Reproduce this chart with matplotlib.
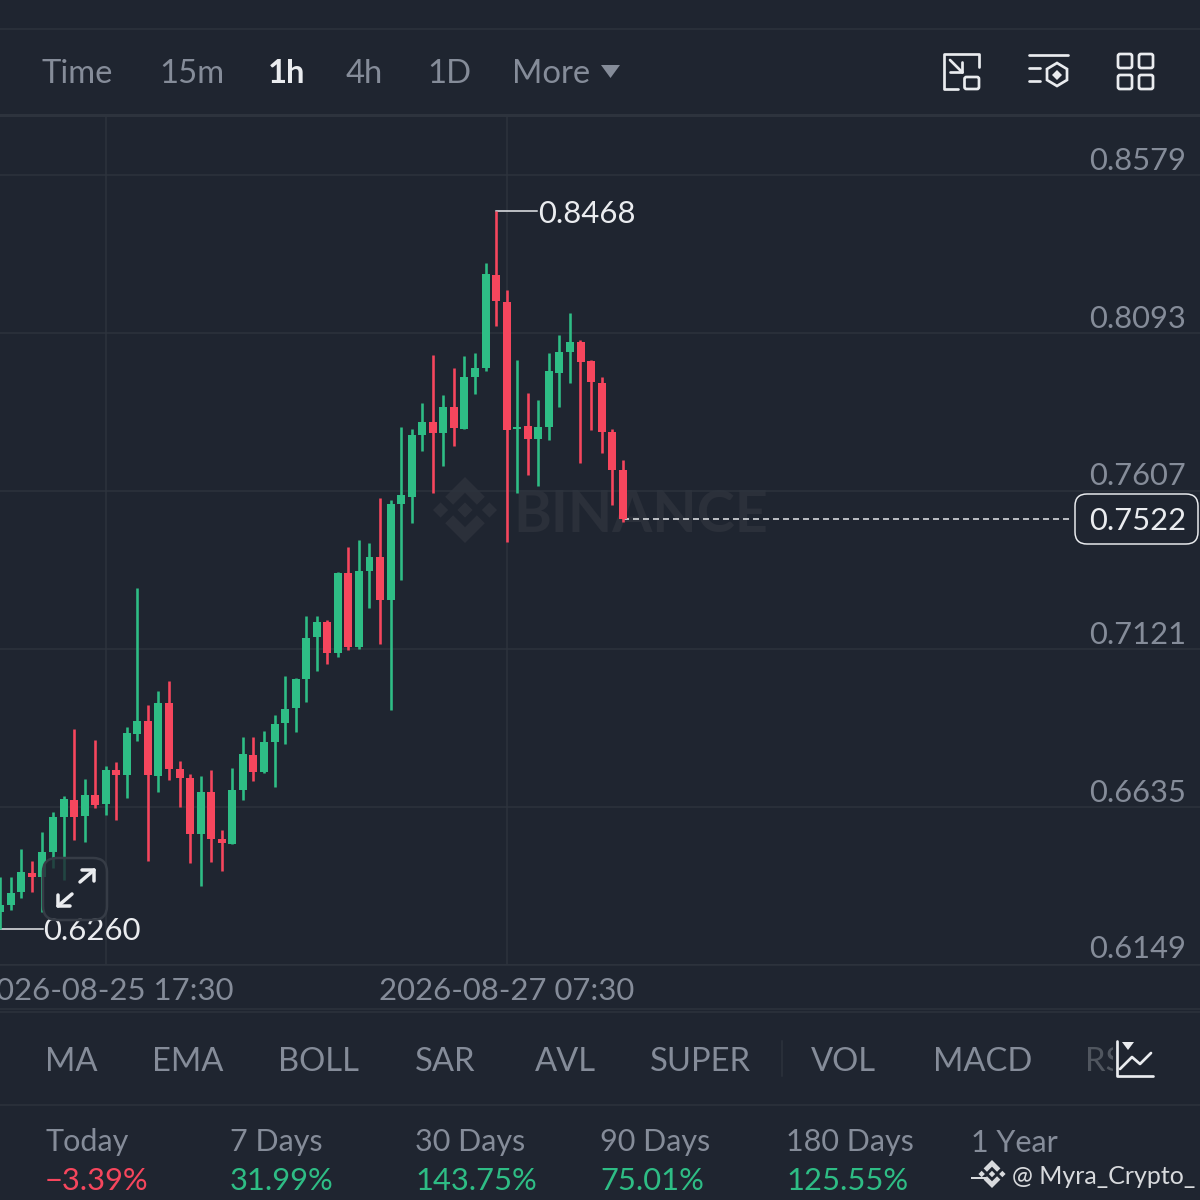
import matplotlib
matplotlib.use("Agg")
import matplotlib.pyplot as plt
from matplotlib.patches import FancyBboxPatch, Polygon, Rectangle

# ===== DATA =====
opens = [0.6312, 0.6334, 0.6373, 0.6432, 0.6420, 0.6497, 0.6604, 0.6656, 0.6607, 0.6672,
         0.6644, 0.6749, 0.6733, 0.6860, 0.6900, 0.6730, 0.6955, 0.6752, 0.6724, 0.6552,
         0.6681, 0.6536, 0.6521, 0.6687, 0.6795, 0.6743, 0.6835, 0.6893, 0.6940, 0.7029,
         0.7158, 0.7204, 0.7109, 0.7355, 0.7127, 0.7361, 0.7404, 0.7272, 0.7567, 0.7589,
         0.7779, 0.7819, 0.7785, 0.7865, 0.7798, 0.7958, 0.7985, 0.8271, 0.8188, 0.7798,
         0.7807, 0.7767, 0.7804, 0.7970, 0.8035, 0.8065, 0.8007, 0.7939, 0.7788, 0.7672]
highs = [0.6420, 0.6420, 0.6506, 0.6469, 0.6558, 0.6620, 0.6669, 0.6875, 0.6721, 0.6841,
         0.6761, 0.6773, 0.6881, 0.7309, 0.6949, 0.6992, 0.7023, 0.6776, 0.6737, 0.6730,
         0.6749, 0.6564, 0.6755, 0.6850, 0.6850, 0.6869, 0.6918, 0.7038, 0.7032, 0.7222,
         0.7222, 0.7210, 0.7358, 0.7435, 0.7456, 0.7447, 0.7585, 0.7579, 0.7804, 0.7798,
         0.7878, 0.8025, 0.7902, 0.7985, 0.8022, 0.8032, 0.8308, 0.8468, 0.8225, 0.8010,
         0.7908, 0.7887, 0.8032, 0.8087, 0.8155, 0.8071, 0.8010, 0.7958, 0.7798, 0.7702]
lows = [0.6260, 0.6318, 0.6355, 0.6373, 0.6312, 0.6447, 0.6410, 0.6533, 0.6527, 0.6632,
        0.6610, 0.6595, 0.6663, 0.6838, 0.6469, 0.6681, 0.6718, 0.6635, 0.6463, 0.6392,
        0.6466, 0.6438, 0.6521, 0.6656, 0.6715, 0.6740, 0.6696, 0.6829, 0.6866, 0.6958,
        0.7053, 0.7075, 0.7096, 0.7118, 0.7121, 0.7247, 0.7136, 0.6933, 0.7333, 0.7509,
        0.7730, 0.7601, 0.7684, 0.7745, 0.7798, 0.7905, 0.7976, 0.8115, 0.7450, 0.7601,
        0.7656, 0.7622, 0.7764, 0.7865, 0.7939, 0.7693, 0.7795, 0.7724, 0.7564, 0.7512]
closes = [0.6334, 0.6370, 0.6435, 0.6420, 0.6497, 0.6604, 0.6660, 0.6604, 0.6672, 0.6641,
          0.6749, 0.6733, 0.6863, 0.6900, 0.6733, 0.6955, 0.6752, 0.6724, 0.6552, 0.6681,
          0.6536, 0.6524, 0.6687, 0.6798, 0.6743, 0.6835, 0.6890, 0.6936, 0.7029, 0.7155,
          0.7204, 0.7109, 0.7355, 0.7127, 0.7361, 0.7404, 0.7272, 0.7567, 0.7595, 0.7779,
          0.7819, 0.7785, 0.7865, 0.7801, 0.7958, 0.7985, 0.8274, 0.8191, 0.7795, 0.7804,
          0.7767, 0.7804, 0.7976, 0.8035, 0.8065, 0.8004, 0.7942, 0.7788, 0.7672, 0.7522]

price_ticks = [0.8579, 0.8093, 0.7607, 0.7121, 0.6635, 0.6149]
time_ticks = [10, 48]
time_labels = ["2026-08-25 17:30", "2026-08-27 07:30"]

tabs = ["Time", "15m", "1h", "4h", "1D", "More"]
indicators = ["MA", "EMA", "BOLL", "SAR", "AVL", "SUPER", "VOL", "MACD"]
periods = ["Today", "7 Days", "30 Days", "90 Days", "180 Days", "1 Year"]
changes = [-3.39, 31.99, 143.75, 75.01, 125.55]

# ===== STYLE =====
BG = "#1F2530"
GRID = "#2D333D"
GRAY = "#858C99"
WHITE = "#EAECEF"
GREEN = "#2EBD85"
RED = "#F6465D"
PX = 0.72  # one pixel in points at dpi 100

plt.rcParams["font.family"] = ["Lato", "DejaVu Sans"]

fig = plt.figure(figsize=(12, 12), dpi=100, facecolor=BG)


def full_axes(zorder):
    a = fig.add_axes([0, 0, 1, 1], zorder=zorder)
    a.set_xlim(0, 1200)
    a.set_ylim(1200, 0)
    a.axis("off")
    return a


def put(a, x, y, s, color=GRAY, size=23.6, ha="left", **kw):
    return a.text(x, y, s, color=color, fontsize=size, ha=ha, va="center_baseline", **kw)


def binance_logo(a, cx, cy, r, color, **kw):
    chevron = [(0, -1), (0.6, -0.4), (0.36, -0.16), (0, -0.52), (-0.36, -0.16), (-0.6, -0.4)]
    diamond = [(0, -0.23), (0.23, 0), (0, 0.23), (-0.23, 0)]
    shapes = [
        [(px, py) for px, py in chevron],
        [(px, -py) for px, py in chevron],
        diamond,
        [(px - 0.74, py) for px, py in diamond],
        [(px + 0.74, py) for px, py in diamond],
    ]
    for shape in shapes:
        a.add_patch(Polygon([(cx + px * r, cy + py * r) for px, py in shape],
                            closed=True, fc=color, ec="none", **kw))


def stroke(a, xs, ys, lw=2.7, color=WHITE):
    a.plot(xs, ys, color=color, lw=lw * PX, solid_capstyle="round", solid_joinstyle="round")


def box(a, x, y, w, h, r=2, lw=2.7, color=WHITE, fc="none"):
    a.add_patch(FancyBboxPatch((x + r, y + r), w - 2 * r, h - 2 * r,
                               boxstyle=f"round,pad={r},rounding_size={r}",
                               fc=fc, ec=color, lw=lw * PX))


# ===== BACK LAYER: separators, tabs, footer =====
back = full_axes(0)
for y, lw in [(28.5, 1.5), (114.5, 3), (1009, 1.5), (1011.5, 1.5), (1105, 1.5)]:
    back.plot([0, 1200], [y, y], color=GRID, lw=lw * PX)
back.plot([782, 782], [1041, 1076], color=GRID, lw=1.5 * PX)

tab_x = [42, 159, 268, 346, 427, 512]
for label, x in zip(tabs, tab_x):
    if label == "1h":
        put(back, x, 71, label, color=WHITE, weight="bold")
    else:
        put(back, x, 71, label)
back.add_patch(Polygon([(601, 65), (620, 65), (610.5, 78)], closed=True, fc=GRAY, ec="none"))

# toolbar icons
stroke(back, [958, 944, 944, 979, 979], [88.5, 88.5, 54, 54, 67])
box(back, 964.5, 77, 14.5, 12)
stroke(back, [950, 962], [60, 72])
stroke(back, [950, 962], [72, 72])
stroke(back, [962, 962], [62, 72])
stroke(back, [1029, 1068], [55, 55])
stroke(back, [1029, 1040], [68, 68])
stroke(back, [1029, 1040], [81, 81])
back.add_patch(Polygon([(1057, 63), (1067, 69), (1067, 80), (1057, 86), (1047, 80), (1047, 69)],
                       closed=True, fc="none", ec=WHITE, lw=2.7 * PX))
back.add_patch(Polygon([(1057, 70), (1062, 75), (1057, 80), (1052, 75)], closed=True, fc=WHITE, ec="none"))
for x in (1118, 1139):
    for y in (54, 75):
        box(back, x, y, 14, 14)

# watermark sits under the candles
binance_logo(back, 465, 510, 33, "#2B303A")
put(back, 513, 510, "BINANCE", color="#2B303A", size=41.5, weight="bold")

ind_x = [45, 152, 278, 415, 535, 650, 811, 933]
for label, x in zip(indicators, ind_x):
    put(back, x, 1059, label)
rsi = put(back, 1085, 1059, "RSI", color="#50565F")
rsi.set_clip_on(True)
rsi.set_clip_path(Rectangle((1080, 1030), 33, 60, transform=back.transData))

# indicator settings icon
stroke(back, [1117, 1117, 1153], [1041, 1076, 1076])
stroke(back, [1120, 1132, 1140, 1151], [1069, 1057, 1064, 1053])
back.add_patch(Polygon([(1122, 1042), (1134, 1042), (1128, 1050)], closed=True, fc=WHITE, ec="none"))

stat_x = [45, 230, 415, 600, 786, 971]
for label, x in zip(periods, stat_x):
    put(back, x, 1140, label, size=22)
for value, x in zip(changes, stat_x):
    put(back, x, 1179, f"{value:.2f}%".replace("-", "\u2212"), color=RED if value < 0 else GREEN, size=22.2)

# source watermark
binance_logo(back, 992, 1174, 14, "#D8DADD")
back.plot([972, 985], [1178, 1178], color="#D8DADD", lw=2 * PX)
put(back, 1012, 1174, "@ Myra_Crypto_", color="#D8DADD", size=18)

# ===== CANDLES =====
STEP = 10.55     # pixels per candle
PRICE_PX = 0.0486 / 158  # price per pixel
top_y, bottom_y = 115, 965
ax = fig.add_axes([0, (1200 - bottom_y) / 1200, 1, (bottom_y - top_y) / 1200], zorder=1)
ax.patch.set_alpha(0)
ax.set_xlim(-0.25 / STEP, 1199.75 / STEP)
ax.set_ylim(price_ticks[-1], price_ticks[0] + (175 - top_y) * PRICE_PX)

x_idx = list(range(len(opens)))
colors = [GREEN if c >= o else RED for o, c in zip(opens, closes)]
ax.vlines(x_idx, lows, highs, colors=colors, lw=2.6 * PX, zorder=3)
ax.bar(x_idx, [abs(c - o) for o, c in zip(opens, closes)], bottom=[min(o, c) for o, c in zip(opens, closes)],
       width=8 / STEP, color=colors, linewidth=0, zorder=4)

ax.set_yticks(price_ticks)
ax.set_xticks(time_ticks)
ax.set_xticklabels(time_labels, fontsize=22.4, color=GRAY)
ax.set_yticklabels([])
ax.tick_params(length=0)
ax.tick_params(axis="x", pad=9)
ax.grid(True, color=GRID, lw=1.5 * PX, zorder=0)
for spine in ax.spines.values():
    spine.set_visible(False)
ax.spines["bottom"].set_visible(True)
ax.spines["bottom"].set_color(GRID)
ax.spines["bottom"].set_linewidth(1.5 * PX)
ax.set_axisbelow(True)

for i, price in enumerate(price_ticks):
    off = 19 if i == len(price_ticks) - 1 else 17
    ax.annotate(f"{price:.4f}", xy=(1186 / 1200, price), xycoords=ax.get_yaxis_transform(),
                xytext=(0, off * PX), textcoords="offset points",
                ha="right", va="center_baseline", color=GRAY, fontsize=22.2)

# high / low markers
i_high = highs.index(max(highs))
i_low = lows.index(min(lows))
ax.plot([x_idx[i_high], x_idx[i_high] + 41 / STEP], [highs[i_high]] * 2, color=WHITE, lw=1.5 * PX, zorder=2)
ax.annotate(f"{highs[i_high]:.4f}", xy=(x_idx[i_high], highs[i_high]), xytext=(42 * PX, 0),
            textcoords="offset points", color=WHITE, fontsize=22.4, va="center_baseline")
ax.plot([x_idx[i_low], x_idx[i_low] + 43 / STEP], [lows[i_low]] * 2, color=WHITE, lw=1.5 * PX, zorder=2)
ax.annotate(f"{lows[i_low]:.4f}", xy=(x_idx[i_low], lows[i_low]), xytext=(43 * PX, 0),
            textcoords="offset points", color=WHITE, fontsize=22.4, va="center_baseline")

# last price line
ax.plot([x_idx[-1], 1072 / STEP], [closes[-1], closes[-1]], color=WHITE, lw=1.5 * PX,
        dashes=(6 / 1.5, 4 / 1.5), zorder=2)

# ===== TOP LAYER: last price box and the expand button =====
front = full_axes(2)
box(front, 1075, 494, 123, 50, r=12, lw=1.5, color=WHITE, fc=BG)
put(front, 1186, 519, f"{closes[-1]:.4f}", color=WHITE, size=22.2, ha="right")

front.add_patch(FancyBboxPatch((57, 872), 36, 34, boxstyle="round,pad=14,rounding_size=14",
                               fc=BG, alpha=0.78, ec="none"))
box(front, 43, 858, 64, 62, r=14, lw=2.5, color="#363C46")
stroke(front, [80, 94], [882, 870], lw=3.5)
stroke(front, [82, 94, 94], [870, 870, 881], lw=3.5)
stroke(front, [58, 72], [906, 894], lw=3.5)
stroke(front, [58, 58, 70], [895, 906, 906], lw=3.5)

fig.savefig("out.png", dpi=100, facecolor=BG)
plt.close(fig)
